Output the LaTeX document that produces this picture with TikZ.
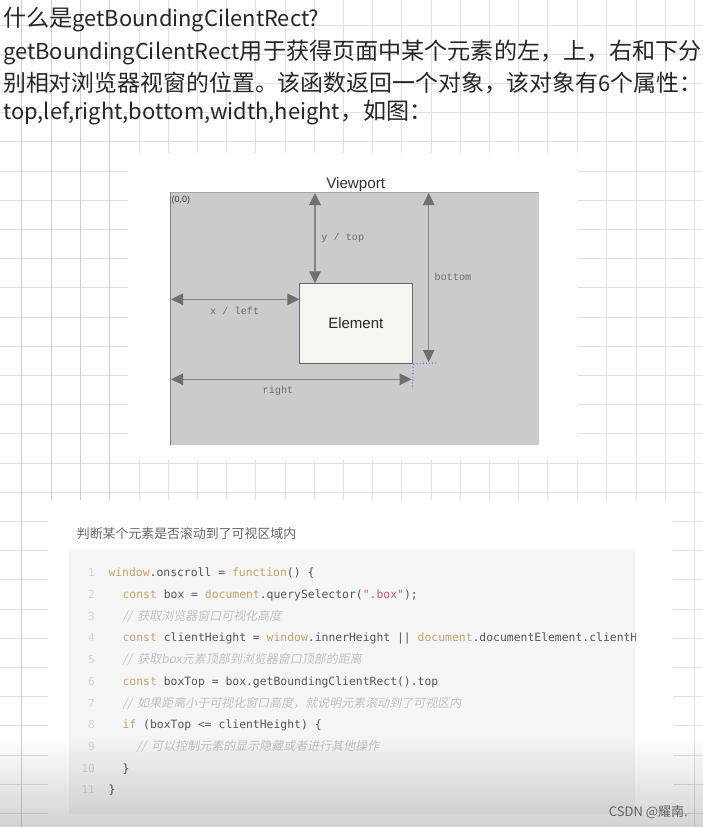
\documentclass[tikz,border=0pt]{standalone}
\usepackage{fontspec}
\setmainfont{Noto Sans CJK SC}
\newfontfamily\sansfont{Liberation Sans}
\newfontfamily\labelfont{Liberation Mono}
\newfontfamily\codefont{DejaVu Sans Mono}
\newfontfamily\cmtfont[FakeSlant=0.2]{Noto Sans CJK SC}
\definecolor{gridc}{HTML}{E0E0E0}
\definecolor{gridl}{HTML}{CFCFCF}
\definecolor{vpfill}{HTML}{CBCBCB}
\definecolor{elfill}{HTML}{F7F5F0}
\definecolor{arrowc}{HTML}{6F6F6F}
\definecolor{shaftc}{HTML}{858585}
\definecolor{lblc}{HTML}{6E6E6E}
\definecolor{codebg}{HTML}{F5F5F5}
\definecolor{kwc}{HTML}{C9A06A}
\definecolor{strc}{HTML}{D8557A}
\definecolor{cmtc}{HTML}{C2C2C2}
\definecolor{numc}{HTML}{D6D6D6}
\definecolor{txtc}{HTML}{555555}
\definecolor{guidec}{HTML}{7A78E0}
\newcommand{\kwd}[1]{\textcolor{kwc}{#1}}
\newcommand{\strg}[1]{\textcolor{strc}{#1}}
\newcommand{\cj}[1]{{\fontsize{23.1}{23.1}\selectfont #1}}
\newcommand{\cjs}[1]{{\fontsize{22.9}{22.9}\selectfont #1}}
\usetikzlibrary{arrows.meta}
\tikzset{
  x=1pt,y=-1pt,
  gridv/.style={draw=gridc,line width=0.9pt},
  gridd/.style={draw=gridl,line width=0.9pt},
  headline/.style={anchor=base west,inner sep=0pt,font=\fontsize{21.9}{21.9}\selectfont,text=black!85},
  dim/.style={draw=shaftc,line width=1.1pt,{Triangle[length=12pt,width=11.5pt,color=arrowc]}-{Triangle[length=12pt,width=11.5pt,color=arrowc]}},
  dimlabel/.style={inner sep=0pt,font=\labelfont\fontsize{10.2}{10.2}\selectfont,text=lblc},
  guide/.style={draw=guidec,line width=1.1pt,dotted},
  codeline/.style={anchor=base west,inner sep=0pt,font=\codefont\fontsize{11.4}{11.4}\selectfont,text=txtc},
  cmtline/.style={anchor=base west,inner sep=0pt,font=\cmtfont\fontsize{12}{12}\selectfont,text=cmtc},
  numline/.style={anchor=base east,inner sep=0pt,font=\codefont\fontsize{11}{11}\selectfont,text=numc},
}
\begin{document}
\begin{tikzpicture}
\useasboundingbox (0,0) rectangle (703,827);
\fill[white] (0,0) rectangle (703,827);
% grid
\foreach \k in {0,...,27}{\draw[gridv] (0,{25+29.2*\k}) -- (703,{25+29.2*\k});}
\foreach \xx in {139,168,197,226,255,285,314,343,372,401,431,460,489,518,547,577,606,636,665}{\draw[gridv] (\xx,0) -- (\xx,500);}
\foreach \xx in {51,80,109}{\draw[gridd] (\xx,0) -- (\xx,500);}
\draw[gridd] (21.7,0) -- (21.7,827);
\draw[gridv] (694,0) -- (694,827);
\fill[white] (128,153) rectangle (578,460);
\fill[white] (48,500) rectangle (673,827);
% headline
\node[headline] (h1) at (3,26) {\cj{什么是}getBoundingCilentRect?};
\node[headline] (h2) at (3,59) {getBoundingCilentRect\cj{用于获得页面中某个元素的左，上，右和下分}};
\node[headline] (h3) at (3,91) {\cjs{别相对浏览器视窗的位置。该函数返回一个对象，该对象有}6\cjs{个属性\makebox[0.5em][l]{：}}};
\node[headline] (h4) at (3,119) {top,lef,right,bottom,width,height\cj{，如图：}};
% viewport
\node[anchor=north west,inner sep=0pt,minimum width=369pt,minimum height=253pt,fill=vpfill] (vp) at (170,192) {};
\draw[draw=gray!70,line width=0.9pt] (vp.north west) -- (vp.north east);
\draw[draw=gray,line width=0.9pt] (vp.north west) -- (vp.south west);
\node[inner sep=0pt,font=\sansfont\fontsize{15.2}{15.2}\selectfont,text=black!80] (vpt) at (355.7,184.5) {Viewport};
\node[anchor=west,inner sep=0pt,font=\sansfont\fontsize{9}{9}\selectfont,text=black!75] (org) at (171.5,200) {(0,0)};
\node[anchor=north west,inner sep=0pt,minimum width=113pt,minimum height=79.5pt,fill=elfill,draw=black!60,line width=1.1pt] (el) at (299.3,283.3) {};
\node[inner sep=0pt,font=\sansfont\fontsize{15}{15}\selectfont,text=black!85] (elt) at (355.8,323.5) {Element};
\coordinate (ta) at (315,193);
\coordinate (ba) at (428.7,193);
\coordinate (la) at (171,299.3);
\coordinate (ra) at (171,379.3);
\coordinate (be) at (428.7,362);
\coordinate (re) at (411.5,379.3);
\coordinate (gh) at (438,362.8);
\coordinate (gv) at (412.3,389);
\draw[dim] (ta) -- (ta |- el.north);
\draw[dim] (ba) -- (be);
\draw[dim] (la) -- (la -| el.west);
\draw[dim] (ra) -- (re);
\draw[guide] (el.south east) -- (gh);
\draw[guide] (el.south east) -- (gv);
\node[dimlabel] (ly) at (342.7,238) {y / top};
\node[dimlabel] (lb) at (453,277) {bottom};
\node[dimlabel] (lx) at (234.7,311) {x / left};
\node[dimlabel] (lr) at (278,391) {right};
% code panel
\node[anchor=base west,inner sep=0pt,font=\fontsize{12.9}{12.9}\selectfont,text=black!60] (ct) at (76.7,538) {判断某个元素是否滚动到了可视区域内};
\node[anchor=north west,inner sep=0pt,minimum width=566pt,minimum height=265pt,fill=codebg] (panel) at (69,549) {};
\begin{scope}
\clip (panel.north west) rectangle (panel.south east);
\foreach \n/\yy in {1/576.5,2/598,3/620,4/641.6,5/663.4,6/685.2,7/707,8/728.4,9/750.2,10/772,11/793.8}{
  \node[numline] (n\n) at (95,\yy) {\n};}
\node[codeline] (c1) at (108.3,576.5) {\kwd{window}.onscroll = \kwd{function}() \{};
\node[codeline] (c2) at (122.4,598) {\kwd{const} box = \kwd{document}.querySelector(\strg{".box"});};
\node[cmtline] (c3) at (122.4,620) {// \ 获取浏览器窗口可视化高度};
\node[codeline] (c4) at (122.4,641.6) {\kwd{const} clientHeight = \kwd{window}.innerHeight || \kwd{document}.documentElement.clientHeight};
\node[cmtline] (c5) at (122.4,663.4) {// \ 获取box元素顶部到浏览器窗口顶部的距离};
\node[codeline] (c6) at (122.4,685.2) {\kwd{const} boxTop = box.getBoundingClientRect().top};
\node[cmtline] (c7) at (122.4,707) {// \ 如果距离小于可视化窗口高度，就说明元素滚动到了可视区内};
\node[codeline] (c8) at (122.4,728.4) {\kwd{if} (boxTop <= clientHeight) \{};
\node[cmtline] (c9) at (136.4,750.2) {// \ 可以控制元素的显示隐藏或者进行其他操作};
\node[codeline] (c10) at (122.4,772) {\}};
\node[codeline] (c11) at (108.3,793.8) {\}};
\end{scope}
% bottom fade
\foreach \yy in {735,737,...,825}{
  \pgfmathsetmacro{\op}{0.17*(\yy-735)/90}
  \fill[black,fill opacity=\op] (0,\yy) rectangle (703,\yy+2);}
\node[anchor=base east,inner sep=0pt,font=\fontsize{13}{13}\selectfont,text=black!62] (wm) at (688,816) {CSDN @耀南.};
\end{tikzpicture}
\end{document}
